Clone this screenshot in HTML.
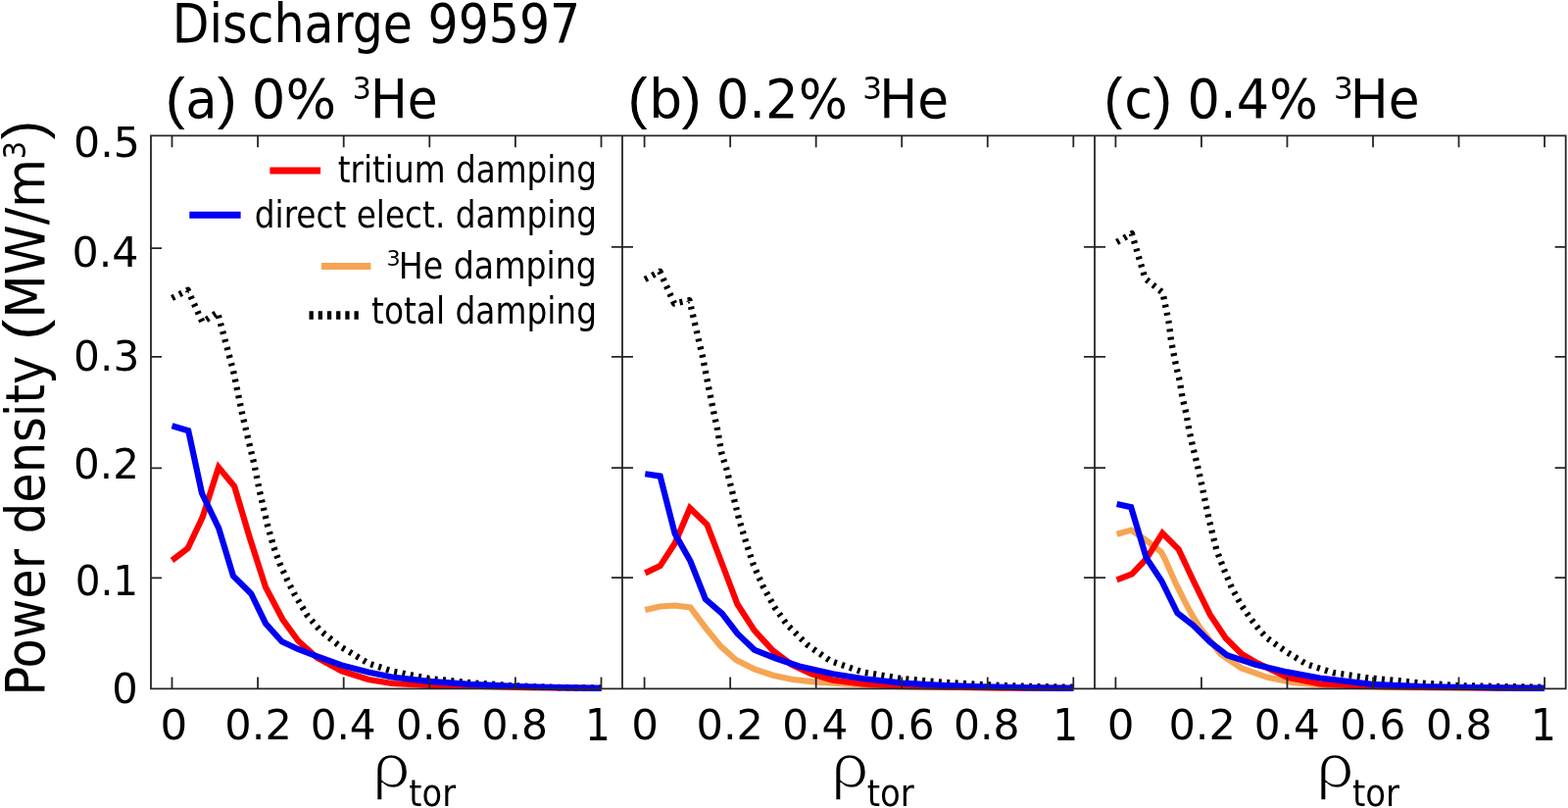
<!DOCTYPE html>
<html><head><meta charset="utf-8"><title>Discharge 99597</title>
<style>html,body{margin:0;padding:0;background:#fff;width:1600px;height:824px;overflow:hidden}
svg{display:block} text{font-family:'DejaVu Sans Condensed','DejaVu Sans',sans-serif;font-stretch:condensed;fill:#000}</style></head>
<body>
<svg width="1600" height="824" viewBox="0 0 1600 824">
<rect width="1600" height="824" fill="#fff"/>
<g fill="none" stroke-linecap="butt">
<polyline points="175.5,571.4 191.6,559.3 206.6,527.7 223.0,476.5 239.2,496.0 255.0,549.0 271.0,598.8 288.5,631.8 304.0,653.2 323.5,670.7 348.7,684.3 376.0,693.0 400.0,697.0 438.0,699.0 480.0,699.6 540.0,701.1 613.5,701.9" fill="none" stroke="#ff0000" stroke-width="6.2" stroke-linejoin="miter" stroke-miterlimit="3"/>
<polyline points="175.5,304.0 191.7,295.8 206.5,328.5 222.0,318.6 237.8,377.0 248.0,425.8 259.5,474.0 264.9,500.7 272.8,535.0 279.5,558.3 285.3,574.3 292.6,590.3 299.9,604.9 313.8,628.0 327.4,643.5 346.8,659.0 376.0,676.5 400.0,684.5 438.0,692.0 480.0,696.3 520.0,699.0 560.0,700.8 613.5,701.6" fill="none" stroke="#000" stroke-width="6.4" stroke-dasharray="3 5.4" stroke-linejoin="round"/>
<polyline points="175.5,434.2 192.2,439.2 206.0,503.0 223.2,538.6 238.0,587.4 256.3,605.5 271.0,635.7 287.6,654.2 304.0,662.0 321.6,668.7 348.7,678.4 376.0,685.6 400.0,690.5 438.0,694.8 480.0,697.8 530.0,700.0 570.0,701.1 613.5,701.9" fill="none" stroke="#0000f2" stroke-width="6.2" stroke-linejoin="miter" stroke-miterlimit="3"/>
<polyline points="658.3,622.0 673.6,618.5 688.7,617.5 704.4,619.4 721.0,641.5 735.2,658.9 751.0,673.0 769.9,682.5 788.8,688.8 807.7,692.8 828.2,695.1 850.0,696.7 880.0,698.5 921.0,700.3 980.0,701.0 1095.4,701.9" fill="none" stroke="#f5a553" stroke-width="6.2" stroke-linejoin="miter" stroke-miterlimit="3"/>
<polyline points="658.3,584.4 673.6,577.1 688.7,554.0 704.0,518.2 721.5,535.1 737.2,576.0 752.5,616.3 769.9,643.1 788.8,663.6 807.7,677.8 828.2,687.3 850.0,693.6 880.0,697.5 921.3,700.0 980.0,701.0 1095.4,701.9" fill="none" stroke="#ff0000" stroke-width="6.2" stroke-linejoin="miter" stroke-miterlimit="3"/>
<polyline points="658.1,284.9 673.4,276.8 688.0,309.5 703.5,306.2 716.9,363.6 723.5,397.1 728.6,421.9 732.2,438.6 736.6,463.4 741.5,478.7 748.2,505.5 754.2,529.8 761.5,554.0 768.8,575.9 778.5,597.8 790.6,619.6 802.8,636.6 823.5,657.3 847.2,674.0 880.6,685.5 921.3,692.2 962.0,695.7 1002.6,698.1 1035.0,699.5 1083.9,700.6 1095.4,700.8" fill="none" stroke="#000" stroke-width="6.4" stroke-dasharray="3 5.4" stroke-linejoin="round"/>
<polyline points="658.3,483.2 673.6,485.6 688.7,544.4 704.5,572.3 719.8,611.0 736.8,625.7 752.5,646.2 769.9,662.8 792.0,671.5 815.6,679.4 850.0,687.3 880.0,692.0 921.3,696.6 960.0,698.8 1002.6,700.4 1050.0,701.3 1095.4,701.9" fill="none" stroke="#0000f2" stroke-width="6.2" stroke-linejoin="miter" stroke-miterlimit="3"/>
<polyline points="1139.6,544.7 1154.4,540.6 1171.0,552.0 1185.0,563.0 1188.7,570.0 1199.4,594.3 1209.1,613.7 1216.9,628.3 1225.6,641.8 1232.4,650.0 1245.4,667.0 1266.8,681.4 1293.5,690.8 1320.2,696.1 1360.2,699.5 1420.0,700.8 1576.0,701.9" fill="none" stroke="#f5a553" stroke-width="6.2" stroke-linejoin="miter" stroke-miterlimit="3"/>
<polyline points="1139.6,591.3 1155.1,585.4 1169.7,570.0 1186.2,543.7 1202.7,560.2 1218.2,593.2 1234.7,626.7 1250.7,650.7 1266.8,666.8 1282.8,676.1 1313.5,690.8 1346.9,697.5 1400.0,699.8 1450.0,700.9 1576.0,701.9" fill="none" stroke="#ff0000" stroke-width="6.2" stroke-linejoin="miter" stroke-miterlimit="3"/>
<polyline points="1139.6,246.9 1154.9,238.2 1168.5,284.0 1186.5,298.5 1193.0,330.5 1195.0,347.5 1199.8,371.7 1203.7,388.3 1206.6,405.7 1210.5,422.2 1213.4,438.7 1217.3,456.2 1221.2,471.7 1225.0,488.3 1226.8,497.0 1233.6,529.5 1241.4,561.0 1249.1,581.0 1256.9,599.5 1266.6,617.0 1276.3,631.0 1286.0,643.4 1293.5,651.2 1313.5,665.4 1333.5,677.4 1360.2,686.0 1393.6,691.0 1450.0,696.5 1490.0,699.3 1530.0,700.0 1576.0,700.8" fill="none" stroke="#000" stroke-width="6.4" stroke-dasharray="3 5.4" stroke-linejoin="round"/>
<polyline points="1139.6,514.0 1154.1,517.1 1169.7,568.9 1185.2,592.2 1201.5,625.3 1217.4,637.6 1234.7,654.7 1252.1,668.1 1280.1,677.4 1313.5,685.4 1346.9,691.5 1400.0,697.8 1450.0,700.0 1500.0,701.0 1576.0,701.9" fill="none" stroke="#0000f2" stroke-width="6.2" stroke-linejoin="miter" stroke-miterlimit="3"/>
<path d="M275.4,173.9H327.1" stroke="#ff0000" stroke-width="7"/>
<path d="M193.3,219.3H245.6" stroke="#0000f2" stroke-width="7"/>
<path d="M328,271.6H378.4" stroke="#f5a553" stroke-width="7"/>
<path d="M315.5,321.4H366.5" stroke="#000" stroke-width="8.5" stroke-dasharray="4.3 4.9"/>
</g>
<path d="M154.0,138.3H635.0V702.4H154.0ZM175.50,702.4v-12M175.50,138.3v12M263.10,702.4v-12M263.10,138.3v12M350.70,702.4v-12M350.70,138.3v12M438.30,702.4v-12M438.30,138.3v12M525.90,702.4v-12M525.90,138.3v12M613.50,702.4v-12M613.50,138.3v12M154.0,589.30h11M635.0,589.10h-11M154.0,477.30h11M635.0,477.10h-11M154.0,363.90h11M635.0,363.80h-11M154.0,253.20h11M635.0,251.80h-11M635.0,138.3H1117.0V702.4H635.0ZM657.60,702.4v-12M657.60,138.3v12M745.14,702.4v-12M745.14,138.3v12M832.68,702.4v-12M832.68,138.3v12M920.22,702.4v-12M920.22,138.3v12M1007.76,702.4v-12M1007.76,138.3v12M1095.30,702.4v-12M1095.30,138.3v12M635.0,589.10h11M1117.0,589.10h-11M635.0,477.10h11M1117.0,477.10h-11M635.0,363.80h11M1117.0,363.80h-11M635.0,251.80h11M1117.0,251.80h-11M1117.0,138.3H1597.7V702.4H1117.0ZM1138.40,702.4v-12M1138.40,138.3v12M1225.94,702.4v-12M1225.94,138.3v12M1313.48,702.4v-12M1313.48,138.3v12M1401.02,702.4v-12M1401.02,138.3v12M1488.56,702.4v-12M1488.56,138.3v12M1576.10,702.4v-12M1576.10,138.3v12M1117.0,589.10h11M1597.7,589.10h-11M1117.0,477.10h11M1597.7,477.10h-11M1117.0,363.80h11M1597.7,363.80h-11M1117.0,251.80h11M1597.7,251.80h-11" fill="none" stroke="#262626" stroke-width="1.8"/>
<text x="175.74" y="42.60" font-size="54.3" textLength="416.55" lengthAdjust="spacingAndGlyphs">Discharge 99597</text>
<text x="168.74" y="119.52" font-size="58.23" textLength="20.04" lengthAdjust="spacingAndGlyphs" style="font-family:Liberation Sans,Arial,sans-serif;font-stretch:normal">(</text>
<text x="189.37" y="119.90" font-size="54.5" textLength="32.41" lengthAdjust="spacingAndGlyphs">a</text>
<text x="221.75" y="119.52" font-size="58.23" textLength="20.04" lengthAdjust="spacingAndGlyphs" style="font-family:Liberation Sans,Arial,sans-serif;font-stretch:normal">)</text>
<text x="256.87" y="119.90" font-size="54.5" textLength="86.34" lengthAdjust="spacingAndGlyphs">0%</text>
<text x="359.85" y="100.73" font-size="31.02" textLength="19.05" lengthAdjust="spacingAndGlyphs">3</text>
<text x="378.12" y="119.90" font-size="54.5" textLength="68.66" lengthAdjust="spacingAndGlyphs">He</text>
<text x="640.61" y="119.52" font-size="58.23" textLength="20.17" lengthAdjust="spacingAndGlyphs" style="font-family:Liberation Sans,Arial,sans-serif;font-stretch:normal">(</text>
<text x="662.31" y="119.90" font-size="54.5" textLength="33.89" lengthAdjust="spacingAndGlyphs">b</text>
<text x="695.44" y="119.52" font-size="58.23" textLength="20.30" lengthAdjust="spacingAndGlyphs" style="font-family:Liberation Sans,Arial,sans-serif;font-stretch:normal">)</text>
<text x="730.67" y="119.90" font-size="54.5" textLength="134.27" lengthAdjust="spacingAndGlyphs">0.2%</text>
<text x="880.37" y="100.73" font-size="31.02" textLength="19.72" lengthAdjust="spacingAndGlyphs">3</text>
<text x="897.27" y="119.90" font-size="54.5" textLength="70.79" lengthAdjust="spacingAndGlyphs">He</text>
<text x="1126.55" y="119.52" font-size="58.23" textLength="18.90" lengthAdjust="spacingAndGlyphs" style="font-family:Liberation Sans,Arial,sans-serif;font-stretch:normal">(</text>
<text x="1147.38" y="119.90" font-size="54.5" textLength="28.92" lengthAdjust="spacingAndGlyphs">c</text>
<text x="1176.46" y="119.52" font-size="58.23" textLength="19.54" lengthAdjust="spacingAndGlyphs" style="font-family:Liberation Sans,Arial,sans-serif;font-stretch:normal">)</text>
<text x="1211.60" y="119.90" font-size="54.5" textLength="133.33" lengthAdjust="spacingAndGlyphs">0.4%</text>
<text x="1360.97" y="100.73" font-size="31.02" textLength="19.72" lengthAdjust="spacingAndGlyphs">3</text>
<text x="1377.87" y="119.90" font-size="54.5" textLength="70.79" lengthAdjust="spacingAndGlyphs">He</text>
<text x="75.05" y="159.75" font-size="43.30" textLength="67.83" lengthAdjust="spacingAndGlyphs">0.5</text>
<text x="73.55" y="271.85" font-size="43.30" textLength="68.04" lengthAdjust="spacingAndGlyphs">0.4</text>
<text x="75.08" y="378.15" font-size="43.17" textLength="67.24" lengthAdjust="spacingAndGlyphs">0.3</text>
<text x="75.10" y="488.45" font-size="43.17" textLength="66.82" lengthAdjust="spacingAndGlyphs">0.2</text>
<text x="76.70" y="607.36" font-size="42.90" textLength="64.43" lengthAdjust="spacingAndGlyphs">0.1</text>
<text x="114.23" y="716.56" font-size="42.90" textLength="26.43" lengthAdjust="spacingAndGlyphs">0</text>
<text x="163.50" y="753.86" font-size="42.90" textLength="27.70" lengthAdjust="spacingAndGlyphs">0</text>
<text x="229.38" y="753.86" font-size="42.90" textLength="68.49" lengthAdjust="spacingAndGlyphs">0.2</text>
<text x="316.69" y="753.86" font-size="42.90" textLength="66.96" lengthAdjust="spacingAndGlyphs">0.4</text>
<text x="404.14" y="753.86" font-size="42.90" textLength="67.01" lengthAdjust="spacingAndGlyphs">0.6</text>
<text x="491.47" y="753.86" font-size="42.90" textLength="67.49" lengthAdjust="spacingAndGlyphs">0.8</text>
<text x="596.98" y="754.50" font-size="44.52" textLength="25.95" lengthAdjust="spacingAndGlyphs">1</text>
<text x="644.30" y="753.86" font-size="42.90" textLength="27.70" lengthAdjust="spacingAndGlyphs">0</text>
<text x="710.53" y="753.86" font-size="42.90" textLength="68.49" lengthAdjust="spacingAndGlyphs">0.2</text>
<text x="798.24" y="753.86" font-size="42.90" textLength="66.96" lengthAdjust="spacingAndGlyphs">0.4</text>
<text x="886.44" y="753.86" font-size="42.90" textLength="67.01" lengthAdjust="spacingAndGlyphs">0.6</text>
<text x="973.07" y="753.86" font-size="42.90" textLength="67.49" lengthAdjust="spacingAndGlyphs">0.8</text>
<text x="1074.28" y="754.50" font-size="44.52" textLength="25.95" lengthAdjust="spacingAndGlyphs">1</text>
<text x="1129.75" y="753.86" font-size="42.90" textLength="27.70" lengthAdjust="spacingAndGlyphs">0</text>
<text x="1192.48" y="753.86" font-size="42.90" textLength="68.49" lengthAdjust="spacingAndGlyphs">0.2</text>
<text x="1279.84" y="753.86" font-size="42.90" textLength="66.96" lengthAdjust="spacingAndGlyphs">0.4</text>
<text x="1367.19" y="753.86" font-size="42.90" textLength="67.01" lengthAdjust="spacingAndGlyphs">0.6</text>
<text x="1454.97" y="753.86" font-size="42.90" textLength="67.49" lengthAdjust="spacingAndGlyphs">0.8</text>
<text x="1562.08" y="754.50" font-size="44.52" textLength="25.95" lengthAdjust="spacingAndGlyphs">1</text>
<text x="379.90" y="0" font-size="50" textLength="38.54" lengthAdjust="spacingAndGlyphs" transform="matrix(1,0,0,1.2456,0,803.38)" style="font-family:Liberation Sans,Arial,sans-serif;font-stretch:normal" stroke="#fff" stroke-width="1.40">ρ</text>
<text x="417.36" y="822.03" font-size="38.05" textLength="47.64" lengthAdjust="spacingAndGlyphs">tor</text>
<text x="848.11" y="0" font-size="50" textLength="38.41" lengthAdjust="spacingAndGlyphs" transform="matrix(1,0,0,1.2456,0,803.38)" style="font-family:Liberation Sans,Arial,sans-serif;font-stretch:normal" stroke="#fff" stroke-width="1.40">ρ</text>
<text x="884.65" y="822.03" font-size="38.05" textLength="48.15" lengthAdjust="spacingAndGlyphs">tor</text>
<text x="1342.90" y="0" font-size="50" textLength="38.54" lengthAdjust="spacingAndGlyphs" transform="matrix(1,0,0,1.2456,0,803.38)" style="font-family:Liberation Sans,Arial,sans-serif;font-stretch:normal" stroke="#fff" stroke-width="1.40">ρ</text>
<text x="1379.96" y="822.03" font-size="38.05" textLength="48.04" lengthAdjust="spacingAndGlyphs">tor</text>
<text x="344.69" y="186.00" font-size="36.5" textLength="264.28" lengthAdjust="spacingAndGlyphs">tritium damping</text>
<text x="259.78" y="231.80" font-size="36.5" textLength="349.17" lengthAdjust="spacingAndGlyphs">direct elect. damping</text>
<text x="394.63" y="271.07" font-size="21.78" textLength="14.16" lengthAdjust="spacingAndGlyphs">3</text>
<text x="406.77" y="283.80" font-size="36.5" textLength="202.20" lengthAdjust="spacingAndGlyphs">He damping</text>
<text x="379.09" y="329.90" font-size="36.5" textLength="229.89" lengthAdjust="spacingAndGlyphs">total damping</text>
<g transform="rotate(-90)">
<text x="-709.41" y="44.60" font-size="56" textLength="346.68" lengthAdjust="spacingAndGlyphs">Power density</text>
<text x="-347.00" y="44.02" font-size="58.23" textLength="21.31" lengthAdjust="spacingAndGlyphs" style="font-family:Liberation Sans,Arial,sans-serif;font-stretch:normal">(</text>
<text x="-324.82" y="44.60" font-size="56" textLength="163.16" lengthAdjust="spacingAndGlyphs">MW/m</text>
<text x="-162.25" y="26.12" font-size="32.21" textLength="18.26" lengthAdjust="spacingAndGlyphs">3</text>
<text x="-142.34" y="43.95" font-size="58.55" textLength="19.41" lengthAdjust="spacingAndGlyphs" style="font-family:Liberation Sans,Arial,sans-serif;font-stretch:normal">)</text>
</g>
</svg>
</body></html>
